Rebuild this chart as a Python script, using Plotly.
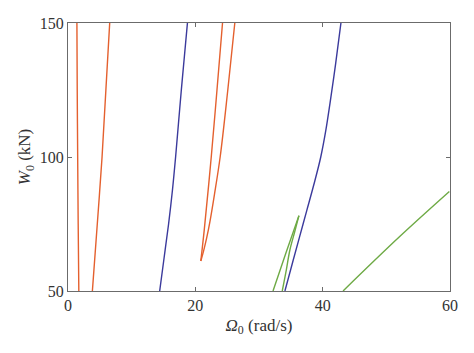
import plotly.graph_objects as go

# Orange curves
orange1_x = [1.70, 1.60, 1.52, 1.45, 1.40]
orange1_y = [50, 75, 100, 125, 150]
orange2_x = [3.83, 4.60, 5.35, 5.95, 6.55]
orange2_y = [50, 75, 100, 125, 150]
orange_loop_left_x = [20.86, 21.40, 22.50, 23.40, 24.27]
orange_loop_left_y = [61.2, 72.8, 100, 125, 150]
orange_loop_right_x = [20.86, 21.30, 21.80, 22.30, 23.00, 23.90, 25.10, 26.20]
orange_loop_right_y = [61.2, 65, 70, 76, 86, 100, 125, 150]

# Blue curves
blue1_x = [14.40, 15.10, 15.80, 16.40, 16.90, 17.35, 17.80, 18.28, 18.76]
blue1_y = [50, 62.5, 75, 87.5, 100, 112.5, 125, 137.5, 150]
blue2_x = [34.07, 35.20, 36.35, 37.50, 38.65, 39.70, 40.50, 41.15, 42.05, 42.87]
blue2_y = [50, 60, 70, 80, 90, 100, 110, 120, 135, 150]

# Green curves
green_loop_left_x = [32.20, 34.20, 36.27]
green_loop_left_y = [50, 64.0, 78.1]
green_loop_right_x = [33.65, 34.30, 34.85, 35.60, 36.27]
green_loop_right_y = [50, 58, 65.3, 72.0, 78.1]
green_line_x = [43.20, 52.10, 59.90]
green_line_y = [50, 70.3, 87.1]

ORANGE = "#E4602E"
BLUE = "#3B3A9C"
GREEN = "#6EAA45"

fig = go.Figure()
for xs, ys, c in [
    (orange1_x, orange1_y, ORANGE),
    (orange2_x, orange2_y, ORANGE),
    (orange_loop_left_x, orange_loop_left_y, ORANGE),
    (orange_loop_right_x, orange_loop_right_y, ORANGE),
    (blue1_x, blue1_y, BLUE),
    (blue2_x, blue2_y, BLUE),
    (green_loop_left_x, green_loop_left_y, GREEN),
    (green_loop_right_x, green_loop_right_y, GREEN),
    (green_line_x, green_line_y, GREEN),
]:
    fig.add_trace(go.Scatter(x=xs, y=ys, mode="lines",
                             line=dict(color=c, width=1.4, shape="spline", smoothing=1.0),
                             showlegend=False))

FAMILY = '"Liberation Serif", "Times New Roman", Times, serif'
tickfont = dict(family=FAMILY, size=16, color="#333333")
titlefont = dict(family=FAMILY, size=17, color="#333333")
axis_common = dict(
    showgrid=False, zeroline=False, showline=True, linecolor="#6b6b6b", linewidth=1.3,
    mirror="ticks", ticks="inside", ticklen=4, tickcolor="#6b6b6b", tickwidth=1,
    tickfont=tickfont,
)
fig.update_xaxes(range=[0, 60], tickvals=[0, 20, 40, 60],
                 title=dict(text="<i>Ω</i><sub>0</sub> (rad/s)", font=titlefont, standoff=5),
                 **axis_common)
fig.update_yaxes(range=[50, 150], tickvals=[50, 100, 150],
                 title=dict(text="<i>W</i><sub>0</sub> (kN)", font=titlefont, standoff=4),
                 **axis_common)
fig.update_layout(
    width=474, height=353,
    margin=dict(l=68, r=24, t=23, b=62),
    plot_bgcolor="white", paper_bgcolor="white",
    font=dict(family=FAMILY),
)
fig.write_html("out.html")
